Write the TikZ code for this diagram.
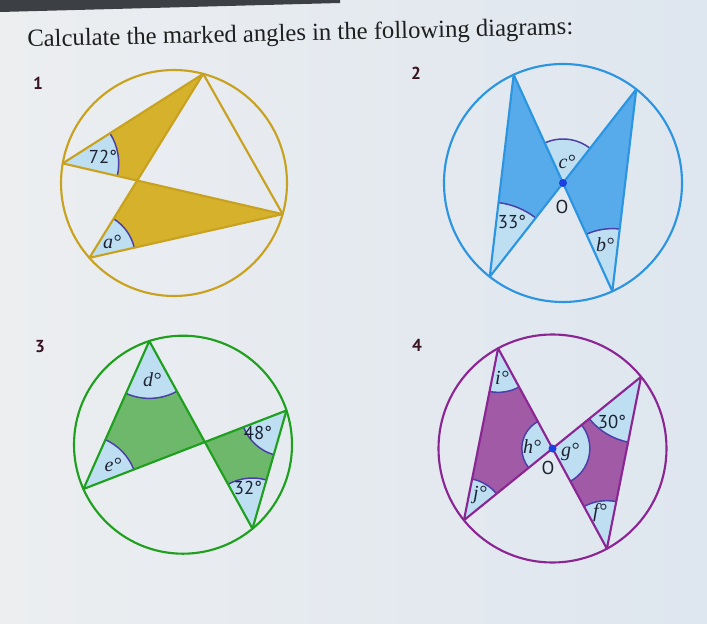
\documentclass[tikz,border=0pt]{standalone}
\usepackage{fontspec}
\setmainfont{Liberation Serif}
\newfontfamily\labelfont{PT Sans}
\usetikzlibrary{calc,angles}

\definecolor{paperleft}{HTML}{ECEEF0}
\definecolor{paperright}{HTML}{DEE6EF}
\definecolor{topband}{HTML}{3C3F44}
\definecolor{titleink}{HTML}{1E1E1E}
\definecolor{numink}{HTML}{3A1420}
\definecolor{labelink}{HTML}{1D2233}
\definecolor{goldline}{HTML}{C8A21F}
\definecolor{goldfill}{HTML}{D5B12C}
\definecolor{blueline}{HTML}{2B95E1}
\definecolor{bluefill}{HTML}{58ABEA}
\definecolor{greenline}{HTML}{1EA01E}
\definecolor{greenfill}{HTML}{6DB86B}
\definecolor{purpleline}{HTML}{8B2594}
\definecolor{purplefill}{HTML}{A15AA6}
\definecolor{markfill}{HTML}{BEDFF2}
\definecolor{markarc}{HTML}{4A3FA8}
\definecolor{dotblue}{HTML}{1E3FE0}

\tikzset{every picture/.style={line width=0.75pt}}
\tikzset{
  chord/.style={line width=1.6pt, line join=round},
  anglemark/.style={draw=markarc, fill=markfill, line width=1.1pt},
  numlabel/.style={inner sep=0.75pt, font=\labelfont\bfseries\fontsize{13}{15}\selectfont, text=numink},
  deglabel/.style={inner sep=0.75pt, font=\labelfont\fontsize{14}{16}\selectfont, text=labelink},
  varlabel/.style={inner sep=0.75pt, font=\itshape\fontsize{15}{17}\selectfont, text=labelink},
}

\begin{document}
\begin{tikzpicture}[x=0.75pt,y=0.75pt,yscale=-1,xscale=1]

  % paper
  \useasboundingbox (0,0) rectangle (707,624);
  \shade[left color=paperleft, right color=paperright] (0,0) rectangle (707,624);
  \fill[topband] (0,0) -- (340,0) -- (340,3) -- (0,12) -- cycle;

  \draw (27,47) node [anchor=base west, rotate=1.3, inner sep=0pt, font=\fontsize{18.5}{22}\selectfont, text=titleink] (title) {Calculate the marked angles in the following diagrams:};

  \draw (38,83) node [numlabel] (n1) {1};
  \draw (416,73) node [numlabel] (n2) {2};
  \draw (40,347) node [numlabel] (n3) {3};
  \draw (417,345) node [numlabel] (n4) {4};

  % diagram 1
  \coordinate (c1) at (174,183);
  \coordinate (A1) at ($(c1)+(-75:113)$);
  \coordinate (B1) at ($(c1)+(190:113)$);
  \coordinate (C1) at ($(c1)+(16:113)$);
  \coordinate (D1) at ($(c1)+(138.5:113)$);
  \coordinate (X1) at (intersection of A1--D1 and B1--C1);

  \fill [goldfill] (B1) -- (A1) -- (X1) -- cycle;
  \fill [goldfill] (X1) -- (C1) -- (D1) -- cycle;
  \pic [anglemark, angle radius=42pt] {angle = C1--B1--A1};
  \pic [anglemark, angle radius=34.5pt] {angle = C1--D1--A1};
  \draw [chord, goldline] (B1) -- (A1) -- (C1) -- (D1) -- (A1);
  \draw [chord, goldline] (B1) -- (C1);
  \draw [chord, goldline] (c1) circle [radius=113];

  \draw (103,157) node [deglabel] (l72) {72°};
  \draw (112,242) node [varlabel] (la) {a°};

  % diagram 2
  \coordinate (O2) at (563,183);
  \coordinate (P1) at ($(O2)+(-114.5:119)$);
  \coordinate (P2) at ($(O2)+(-52:119)$);
  \coordinate (P3) at ($(O2)+(128:119)$);
  \coordinate (P4) at ($(O2)+(65.5:119)$);

  \fill [bluefill] (P1) -- (P3) -- (O2) -- cycle;
  \fill [bluefill] (O2) -- (P2) -- (P4) -- cycle;
  \pic [anglemark, angle radius=56pt] {angle = O2--P3--P1};
  \pic [anglemark, angle radius=47pt] {angle = P2--P4--O2};
  \pic [anglemark, angle radius=33pt] {angle = P2--O2--P1};
  \draw [chord, blueline] (P4) -- (P1) -- (P3) -- (P2) -- cycle;
  \draw [chord, blueline] (O2) circle [radius=119];
  \fill [dotblue] (O2) circle [radius=4];

  \draw (567,162) node [varlabel] (lc) {c°};
  \draw (512,222) node [deglabel] (l33) {33°};
  \draw (605,245) node [varlabel] (lb) {b°};
  \draw (562,207) node [deglabel] (lO2) {O};

  % diagram 3
  \coordinate (c3) at (183,444.7);
  \coordinate (Q1) at ($(c3)+(-108:109)$);
  \coordinate (Q2) at ($(c3)+(-18.3:109)$);
  \coordinate (Q3) at ($(c3)+(156:109)$);
  \coordinate (Q4) at ($(c3)+(50.4:109)$);
  \coordinate (X3) at (intersection of Q1--Q4 and Q3--Q2);

  \fill [greenfill] (Q1) -- (Q3) -- (X3) -- cycle;
  \fill [greenfill] (X3) -- (Q2) -- (Q4) -- cycle;
  \pic [anglemark, angle radius=43pt] {angle = Q3--Q1--X3};
  \pic [anglemark, angle radius=40.5pt] {angle = X3--Q3--Q1};
  \pic [anglemark, angle radius=34.5pt] {angle = X3--Q2--Q4};
  \pic [anglemark, angle radius=38pt] {angle = Q2--Q4--X3};
  \draw [chord, greenline] (Q4) -- (Q1) -- (Q3) -- (Q2) -- cycle;
  \draw [chord, greenline] (c3) circle [radius=109];

  \draw (152,380) node [varlabel] (ld) {d°};
  \draw (113,465) node [varlabel] (le) {e°};
  \draw (258,433) node [deglabel] (l48) {48°};
  \draw (248,488) node [deglabel] (l32) {32°};

  % diagram 4
  \coordinate (O4) at (552.5,448.5);
  \coordinate (R1) at ($(O4)+(-118.5:114)$);
  \coordinate (R2) at ($(O4)+(-39:114)$);
  \coordinate (R3) at ($(O4)+(141:114)$);
  \coordinate (R4) at ($(O4)+(61.5:114)$);

  \fill [purplefill] (R1) -- (R3) -- (O4) -- cycle;
  \fill [purplefill] (O4) -- (R2) -- (R4) -- cycle;
  \pic [anglemark, angle radius=33pt] {angle = R3--R1--O4};
  \pic [anglemark, angle radius=31.5pt] {angle = O4--R3--R1};
  \pic [anglemark, angle radius=23pt] {angle = R1--O4--R3};
  \pic [anglemark, angle radius=28pt] {angle = R4--O4--R2};
  \pic [anglemark, angle radius=50pt] {angle = O4--R2--R4};
  \pic [anglemark, angle radius=36pt] {angle = R2--R4--O4};
  \draw [chord, purpleline] (R4) -- (R1) -- (R3) -- (R2) -- cycle;
  \draw [chord, purpleline] (O4) circle [radius=114];
  \fill [dotblue] (O4) circle [radius=4];

  \draw (502,378) node [varlabel] (li) {i°};
  \draw (532,447) node [varlabel] (lh) {h°};
  \draw (570,452) node [varlabel] (lg) {g°};
  \draw (548,468) node [deglabel] (lO4) {O};
  \draw (612,422) node [deglabel] (l30) {30°};
  \draw (480,495) node [varlabel] (lj) {j°};
  \draw (600,513) node [varlabel] (lf) {f°};

\end{tikzpicture}
\end{document}
